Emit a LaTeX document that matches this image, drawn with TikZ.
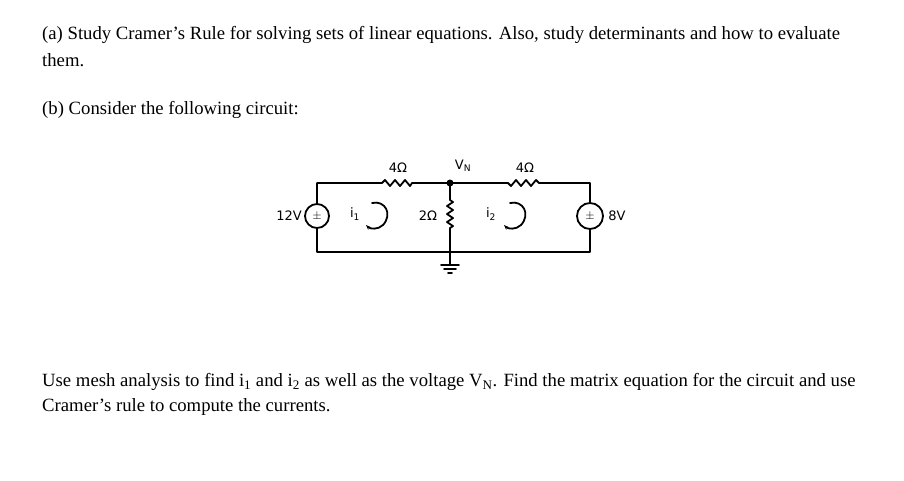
\documentclass[tikz,border=0pt]{standalone}
\usepackage{fontspec}
\setmainfont{Liberation Serif}
\newfontfamily\hand{DejaVu Sans}
\usetikzlibrary{arrows.meta}
\begin{document}
\begin{tikzpicture}[x=1pt,y=-1pt,
  txt/.style={anchor=west,inner sep=0,font=\fontsize{18.7}{22}\selectfont},
  lbl/.style={inner sep=0,font=\hand\fontsize{13}{14}\selectfont},
  wire/.style={line width=1.8pt,line cap=round,line join=round}]
\useasboundingbox (0,0) rectangle (904,480);
\node[txt] (t1) at (42,35) {(a) Study Cramer’s Rule for solving sets of linear equations. Also, study determinants and how to evaluate};
\node[txt] (t2) at (42,60) {them.};
\node[txt] (t3) at (42,110) {(b) Consider the following circuit:};
\node[txt] (t4) at (42,382) {Use mesh analysis to find i\textsubscript{1} and i\textsubscript{2} as well as the voltage V\textsubscript{N}. Find the matrix equation for the circuit and use};
\node[txt] (t5) at (42,407) {Cramer’s rule to compute the currents.};
% circuit
\coordinate (tl) at (317,183); \coordinate (bl) at (317,252);
\coordinate (tm) at (450,183); \coordinate (bm) at (450,252);
\coordinate (tr) at (590,183); \coordinate (br) at (590,252);
\node[draw,circle,line width=1.8pt,minimum size=24pt,inner sep=0,font=\fontsize{13}{13}\selectfont] (s1) at (317,216) {$\pm$};
\node[draw,circle,line width=1.8pt,minimum size=26pt,inner sep=0,font=\fontsize{13}{13}\selectfont] (s2) at (590,216) {$\pm$};
\draw[wire] (s1.north) -- (tl) -- (382,183) -- ++(3,-3) -- ++(5,6) -- ++(5,-6) -- ++(5,6) -- ++(5,-6) -- ++(5,6) -- ++(2,-3) -- (tm) -- (508,183) -- ++(3,3) -- ++(5,-6) -- ++(5,6) -- ++(5,-6) -- ++(5,6) -- ++(5,-6) -- ++(3,3) -- (tr) -- (s2.north);
\draw[wire] (s1.south) -- (bl) -- (br) -- (s2.south);
\draw[wire] (tm) -- (450,200) -- ++(3,2) -- ++(-6,4) -- ++(6,4) -- ++(-6,4) -- ++(6,4) -- ++(-6,4) -- ++(6,4) -- ++(-3,2) -- (bm) -- (450,265);
\fill (tm) circle (3.5);
\draw[wire] (441,265) -- (459,265) (444,269) -- (456,269) (448,273) -- (452,273);
% labels
\node[lbl] (l12) at (289,216) {12V};
\node[lbl] (l8) at (617,216) {8V};
\node[lbl] (r1) at (398,168) {4Ω};
\node[lbl] (vn) at (463,166) {V\textsubscript{N}};
\node[lbl] (r2) at (525,168) {4Ω};
\node[lbl] (r3) at (428,216) {2Ω};
\node[lbl] (i1) at (355,214) {i\textsubscript{1}};
\node[lbl] (i2) at (491,214) {i\textsubscript{2}};
\draw[wire,-{Stealth[length=5pt]}] (372,203) .. controls (385,200) and (393,214) .. (383,225) .. controls (378,230) and (370,229) .. (366,225);
\draw[wire,-{Stealth[length=5pt]}] (510,203) .. controls (523,200) and (531,214) .. (521,225) .. controls (516,230) and (508,229) .. (504,225);
\end{tikzpicture}
\end{document}
